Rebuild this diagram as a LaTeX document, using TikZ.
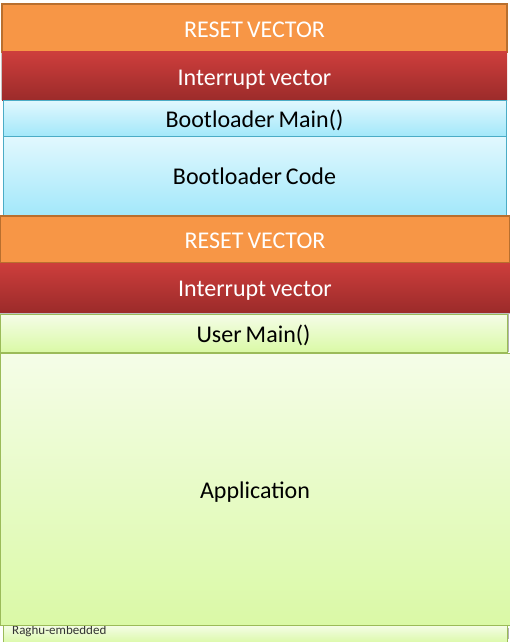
\documentclass[tikz,border=0pt]{standalone}
\usepackage{fontspec}
\setmainfont{Carlito}
\usetikzlibrary{positioning}
\definecolor{orfill}{HTML}{F79646}
\definecolor{ordraw}{HTML}{B96F2E}
\definecolor{redtop}{HTML}{CD3E3C}
\definecolor{redbot}{HTML}{9C2B2A}
\definecolor{bltop}{HTML}{E2F8FE}
\definecolor{blbot}{HTML}{A3E8FA}
\definecolor{bldraw}{HTML}{4BACC6}
\definecolor{grtop}{HTML}{F5FDE8}
\definecolor{grbot}{HTML}{DAF9A6}
\definecolor{grdraw}{HTML}{9BBB59}
\newcommand{\memfont}{\fontsize{24}{26}\selectfont\spaceskip=0.17em\relax}
\tikzset{
  memblock/.style={rectangle, anchor=north west, inner sep=0pt, outer sep=0pt,
    font=\memfont, text height=18.5pt, text depth=0pt},
  resetbox/.style={memblock, fill=orfill, draw=ordraw, line width=1.2pt, text=white},
  intbox/.style={memblock, top color=redtop, bottom color=redbot, draw=none, text=white},
  bluebox/.style={memblock, top color=bltop, bottom color=blbot, draw=bldraw, line width=0.9pt, text=black},
  greenbox/.style={memblock, top color=grtop, bottom color=grbot, draw=grdraw, line width=0.9pt, text=black},
}
\begin{document}
\begin{tikzpicture}[x=1pt,y=1pt]
\useasboundingbox[fill=white] (0,0) rectangle (510,-642);
% footer box (behind application)
\fill[gray!60] (5,-628) rectangle (509,-639);
\node[greenbox, minimum width=504pt, minimum height=12pt] (foot) at (3,-625) {};
\node[anchor=base west, inner sep=0pt, font=\fontsize{13}{14}\selectfont, text=black!80] (raghu) at (12,-634.5) {Raghu-embedded};
% bootloader region
\fill[gray!45] (1,-52) rectangle (3,-100);
\node[resetbox, minimum width=505pt, minimum height=48pt] (r1) at (2,-4) {RESET VECTOR};
\node[intbox, minimum width=505pt, minimum height=48pt] (i1) at (2,-52) {Interrupt vector};
\node[bluebox, minimum width=503pt, minimum height=36pt] (bm) at (3,-100) {Bootloader Main()};
\node[bluebox, minimum width=503pt, minimum height=79pt] (bc) at (3,-136) {Bootloader Code};
% application region
\node[resetbox, minimum width=510pt, minimum height=47pt] (r2) at (0,-216) {RESET VECTOR};
\fill[gray!50] (0,-312) rectangle (510,-314);
\node[intbox, minimum width=510pt, minimum height=49pt] (i2) at (0,-263) {Interrupt vector};
\fill[gray!60] (507,-314) rectangle (509,-352);
\node[greenbox, minimum width=507pt, minimum height=38pt] (um) at (0,-314) {User Main()};
\node[greenbox, minimum width=510pt, minimum height=272pt] (app) at (0,-353) {Application};
\end{tikzpicture}
\end{document}
